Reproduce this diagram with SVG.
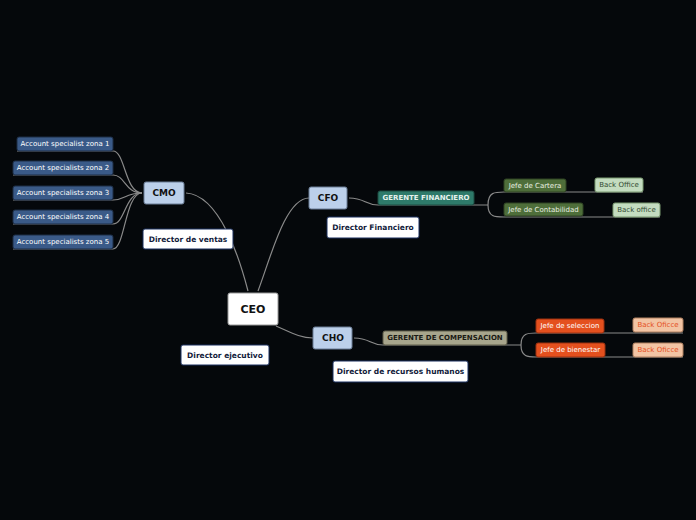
<svg xmlns="http://www.w3.org/2000/svg" width="696" height="520" viewBox="0 0 696 520">
<style>
text{font-family:"DejaVu Sans",sans-serif;text-anchor:middle;dominant-baseline:central}
.acc rect{fill:#3a5a88;stroke:#1c2c44;stroke-width:1}
.acc text{fill:#fff;font-size:7px}
.mgr rect{fill:#bcd0ea;stroke:#6a7c96}
.mgr text{fill:#111;font-size:9px;font-weight:bold}
.lab rect{fill:#fff;stroke:#1b2f5e}
.lab text{fill:#111a3a;font-size:7.5px;font-weight:bold}
.c path{fill:none;stroke:#8a8a8a;stroke-width:1.2}
</style>
<rect width="696" height="520" fill="#05080b"/>
<g class="c">
<path d="M248,291 C240,260 220,195 186,193"/>
<path d="M258,291 C270,260 285,198 309,198"/>
<path d="M276,326 C290,332 300,338 313,338"/>
<path d="M142,193 C125,193 125,151 113,151 L17,151"/>
<path d="M142,193 C125,193 125,175 113,175 L13,175"/>
<path d="M142,193 C125,193 125,200 113,200 L13,200"/>
<path d="M142,193 C125,193 125,224 113,224 L13,224"/>
<path d="M142,193 C125,193 125,249 113,249 L13,249"/>
<path d="M349,198 C365,198 365,205 378,205 L488,205"/>
<path d="M488,205 C488,192 495,192 504,192 L643,192"/>
<path d="M488,205 C488,217 495,217 504,217 L660,217"/>
<path d="M354,338 C370,338 370,345 383,345 L521,345"/>
<path d="M521,345 C521,333 528,333 536,333 L683,333"/>
<path d="M521,345 C521,357 528,357 536,357 L683,357"/>
</g>
<g id="ceo"><rect x="228" y="293" width="50" height="32" rx="2" fill="#fff" stroke="#999"/><text x="253" y="309" font-size="11" font-weight="bold" fill="#111">CEO</text></g>
<g id="cmo" class="mgr"><rect x="144" y="182" width="40" height="22" rx="2"/><text x="164" y="193">CMO</text></g>
<g id="cfo" class="mgr"><rect x="309" y="187" width="38" height="22" rx="2"/><text x="328" y="198">CFO</text></g>
<g id="cho" class="mgr"><rect x="313" y="327" width="39" height="22" rx="2"/><text x="333" y="338">CHO</text></g>
<g id="l1" class="lab"><rect x="143" y="229" width="90" height="20" rx="2"/><text x="188" y="239">Director de ventas</text></g>
<g id="l2" class="lab"><rect x="327" y="217" width="92" height="21" rx="2"/><text x="373" y="227.5">Director Financiero</text></g>
<g id="l3" class="lab"><rect x="181" y="345" width="88" height="20" rx="2"/><text x="225" y="355">Director ejecutivo</text></g>
<g id="l4" class="lab"><rect x="333" y="361" width="135" height="21" rx="2"/><text x="400.5" y="371.5">Director de recursos humanos</text></g>
<g id="a1" class="acc"><rect x="17" y="137" width="96" height="14" rx="2"/><text x="65" y="144">Account specialist zona 1</text></g>
<g id="a2" class="acc"><rect x="13" y="161" width="100" height="14" rx="2"/><text x="63" y="168">Account specialists zona 2</text></g>
<g id="a3" class="acc"><rect x="13" y="186" width="100" height="14" rx="2"/><text x="63" y="193">Account specialists zona 3</text></g>
<g id="a4" class="acc"><rect x="13" y="210" width="100" height="14" rx="2"/><text x="63" y="217">Account specialists zona 4</text></g>
<g id="a5" class="acc"><rect x="13" y="235" width="100" height="14" rx="2"/><text x="63" y="242">Account specialists zona 5</text></g>
<g id="gf"><rect x="378" y="191" width="96" height="14" rx="2" fill="#2e7a6a" stroke="#1c4a40"/><text x="426" y="198" font-size="7" font-weight="bold" fill="#e6f2ee">GERENTE FINANCIERO</text></g>
<g id="jc"><rect x="504" y="179" width="62" height="13" rx="2" fill="#4e6e3a" stroke="#2e4222"/><text x="535" y="185.5" font-size="7" fill="#e8eee0">Jefe de Cartera</text></g>
<g id="jco"><rect x="504" y="203" width="79" height="13" rx="2" fill="#4e6e3a" stroke="#2e4222"/><text x="543.5" y="209.5" font-size="7" fill="#e8eee0">Jefe de Contabilidad</text></g>
<g id="bo1"><rect x="595" y="178" width="48" height="14" rx="2" fill="#c4dcc0" stroke="#7a9a70"/><text x="619" y="185" font-size="7" fill="#334a30">Back Office</text></g>
<g id="bo2"><rect x="613" y="203" width="47" height="14" rx="2" fill="#c4dcc0" stroke="#7a9a70"/><text x="636.5" y="210" font-size="7" fill="#334a30">Back office</text></g>
<g id="gc"><rect x="383" y="331" width="124" height="14" rx="2" fill="#a7a58c" stroke="#5e5c48"/><text x="445" y="338" font-size="7" font-weight="bold" fill="#1a1a14">GERENTE DE COMPENSACION</text></g>
<g id="js"><rect x="536" y="319" width="68" height="14" rx="2" fill="#e4501e" stroke="#9a3010"/><text x="570" y="326" font-size="7" fill="#fff">Jefe de seleccion</text></g>
<g id="jb"><rect x="536" y="343" width="69" height="14" rx="2" fill="#e4501e" stroke="#9a3010"/><text x="570.5" y="350" font-size="7" fill="#fff">Jefe de bienestar</text></g>
<g id="bo3"><rect x="633" y="318" width="50" height="14" rx="2" fill="#f2c4a4" stroke="#b08060"/><text x="658" y="325" font-size="7" fill="#e4501e">Back Oficce</text></g>
<g id="bo4"><rect x="633" y="343" width="50" height="14" rx="2" fill="#f2c4a4" stroke="#b08060"/><text x="658" y="350" font-size="7" fill="#e4501e">Back Oficce</text></g>
</svg>
